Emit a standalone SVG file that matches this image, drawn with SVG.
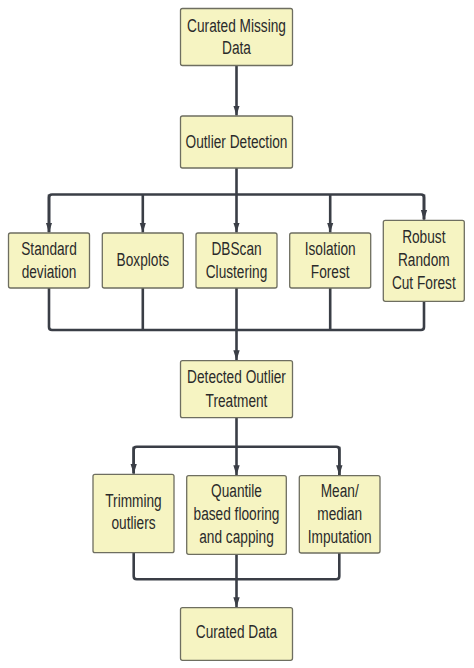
<svg xmlns="http://www.w3.org/2000/svg" width="474" height="668" viewBox="0 0 474 668">
<defs>
<marker id="ah" markerUnits="userSpaceOnUse" markerWidth="10" markerHeight="10" viewBox="0 0 10 10" refX="10" refY="5" orient="auto">
<path d="M0,1.8 L10,5 L0,8.2 Z" fill="#3a3e46"/>
</marker>
<style>
.n rect{fill:#f6f4c2;stroke:#6e6e60;stroke-width:1.3}
.n text{font-family:"Liberation Sans",Arial,sans-serif;font-size:19px;fill:#2a2a2a;text-anchor:middle}
.c path{fill:none;stroke:#3a3e46;stroke-width:2.6;stroke-linejoin:round}
.c .a{marker-end:url(#ah)}
</style>
</defs>
<rect width="474" height="668" fill="#ffffff"/>
<g class="c" id="connectors">
<path class="a" d="M236.5,65 V115.5"/>
<path d="M236.5,168 V194.5"/>
<path d="M49,232 V197.5 Q49,194.5 52,194.5 H421 Q424,194.5 424,197.5 V219"/>
<path class="a" d="M49,194.5 V232.5"/>
<path class="a" d="M142.8,194.5 V232.5"/>
<path class="a" d="M236.5,194.5 V232.5"/>
<path class="a" d="M330.2,194.5 V232.5"/>
<path class="a" d="M424,194.5 V219.8"/>
<path d="M49,288 V327 Q49,330 52,330 H421 Q424,330 424,327 V301"/>
<path d="M142.8,288 V330"/>
<path d="M236.5,288 V330"/>
<path d="M330.2,288 V330"/>
<path class="a" d="M236.5,330 V360.2"/>
<path d="M236.5,417.7 V446.7"/>
<path d="M133.7,473 V449.7 Q133.7,446.7 136.7,446.7 H336.3 Q339.3,446.7 339.3,449.7 V475"/>
<path class="a" d="M133.7,446.7 V473.8"/>
<path class="a" d="M236.5,446.7 V475.2"/>
<path class="a" d="M339.3,446.7 V475.2"/>
<path d="M133.7,552.7 V576.3 Q133.7,579.3 136.7,579.3 H336.3 Q339.3,579.3 339.3,576.3 V553"/>
<path d="M236.5,554.3 V579.3"/>
<path class="a" d="M236.5,579.3 V607.2"/>
</g>
<g class="n" id="n1"><rect x="180.5" y="8.5" width="112" height="57" rx="2"/>
<text transform="translate(236.5,31.7) scale(0.72,1)">Curated Missing</text>
<text transform="translate(236.5,54.3) scale(0.72,1)">Data</text></g>
<g class="n" id="n2"><rect x="180.5" y="116" width="112" height="52" rx="2"/>
<text transform="translate(236.5,147.5) scale(0.72,1)">Outlier Detection</text></g>
<g class="n" id="n3"><rect x="8.5" y="233" width="81" height="55" rx="2"/>
<text transform="translate(49,255) scale(0.72,1)">Standard</text>
<text transform="translate(49,278.3) scale(0.72,1)">deviation</text></g>
<g class="n" id="n4"><rect x="102.3" y="233" width="81" height="55" rx="2"/>
<text transform="translate(142.8,265.5) scale(0.72,1)">Boxplots</text></g>
<g class="n" id="n5"><rect x="196" y="233" width="81" height="55" rx="2"/>
<text transform="translate(236.5,255) scale(0.72,1)">DBScan</text>
<text transform="translate(236.5,278.3) scale(0.72,1)">Clustering</text></g>
<g class="n" id="n6"><rect x="289.7" y="233" width="81" height="55" rx="2"/>
<text transform="translate(330.2,255) scale(0.72,1)">Isolation</text>
<text transform="translate(330.2,278.3) scale(0.72,1)">Forest</text></g>
<g class="n" id="n7"><rect x="383.3" y="220.3" width="81" height="81" rx="2"/>
<text transform="translate(423.8,243.3) scale(0.72,1)">Robust</text>
<text transform="translate(423.8,266.3) scale(0.72,1)">Random</text>
<text transform="translate(423.8,289.3) scale(0.72,1)">Cut Forest</text></g>
<g class="n" id="n8"><rect x="180.5" y="360.7" width="112" height="57" rx="2"/>
<text transform="translate(236.5,383.3) scale(0.72,1)">Detected Outlier</text>
<text transform="translate(236.5,406.7) scale(0.72,1)">Treatment</text></g>
<g class="n" id="n9"><rect x="93" y="474.3" width="81" height="78.4" rx="2"/>
<text transform="translate(133.5,506.7) scale(0.72,1)">Trimming</text>
<text transform="translate(133.5,529.3) scale(0.72,1)">outliers</text></g>
<g class="n" id="n10"><rect x="186.7" y="475.7" width="99.6" height="78.6" rx="2"/>
<text transform="translate(236.5,496.7) scale(0.72,1)">Quantile</text>
<text transform="translate(236.5,520) scale(0.72,1)">based flooring</text>
<text transform="translate(236.5,543.3) scale(0.72,1)">and capping</text></g>
<g class="n" id="n11"><rect x="299.3" y="475.7" width="80.7" height="77.3" rx="2"/>
<text transform="translate(339.7,496.7) scale(0.72,1)">Mean/</text>
<text transform="translate(339.7,520) scale(0.72,1)">median</text>
<text transform="translate(339.7,543.3) scale(0.72,1)">Imputation</text></g>
<g class="n" id="n12"><rect x="180.5" y="607.7" width="112" height="52.6" rx="2"/>
<text transform="translate(236.5,638) scale(0.72,1)">Curated Data</text></g>
</svg>
